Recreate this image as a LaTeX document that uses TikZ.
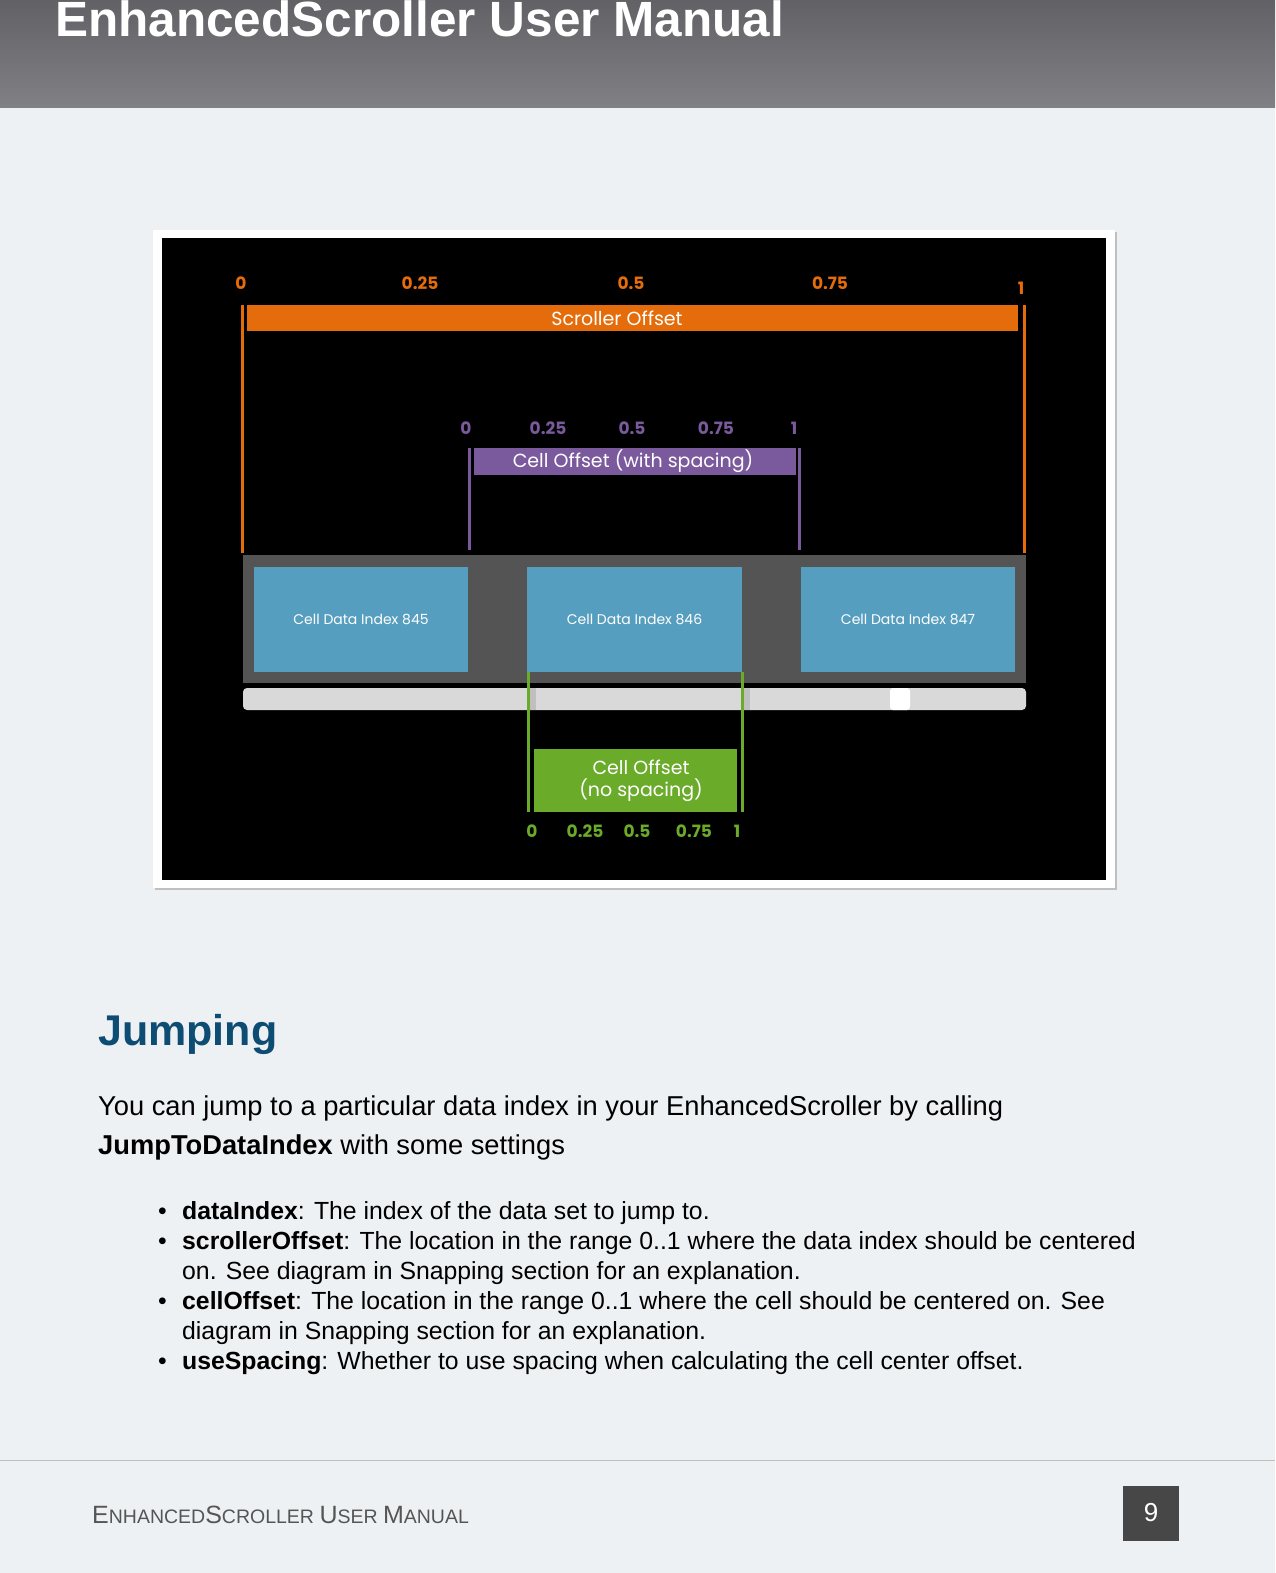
\documentclass[tikz,border=0pt]{standalone}
\usepackage{fontspec}
\setmainfont{Liberation Sans}
\newfontfamily\dfont{Poppins}
\newcommand{\fsz}[1]{\fontsize{#1}{#1}\selectfont}
\definecolor{bg}{HTML}{EEF1F4}
\definecolor{hdr}{HTML}{737277}
\definecolor{orng}{HTML}{E46C0A}
\definecolor{purp}{HTML}{7A5A9C}
\definecolor{cellb}{HTML}{569EBF}
\definecolor{grn}{HTML}{6AAB2A}
\definecolor{head}{HTML}{0E4D73}
\definecolor{ftxt}{HTML}{555555}
\begin{document}
\begin{tikzpicture}[x=1pt,y=-1pt,
  olab/.style={text=orng,font=\dfont\fsz{17}\bfseries,anchor=center},
  plab/.style={text=purp,font=\dfont\fsz{17}\bfseries,anchor=center},
  glab/.style={text=grn,font=\dfont\fsz{17}\bfseries,anchor=center},
  cell/.style={fill=cellb,draw=none,text=white,font=\dfont\fsz{14},align=center}]
\fill[bg] (0,0) rectangle (1275,1573);
\useasboundingbox (0,0) rectangle (1275,1573);
\shade[top color=hdr!85!black,bottom color=hdr!90!white] (0,0) rectangle (1275,108);
\begin{scope}
\clip (0,0) rectangle (1275,108);
\node[anchor=base west,text=white,font=\fsz{49.5}\bfseries,inner sep=0] (title) at (55,37) {EnhancedScroller User Manual};
\end{scope}
% frame
\fill[black!25] (155,232) rectangle (1117,890);
\fill[white] (153,230) rectangle (1115,888);
\fill[black] (162,238) rectangle (1106,880);
% orange
\node[olab] (o0) at (241,283) {0};
\node[olab] (o1) at (420,283) {0.25};
\node[olab] (o2) at (631,283) {0.5};
\node[olab] (o3) at (830,283) {0.75};
\node[olab] (o4) at (1021,288) {1};
\fill[orng] (247,305) rectangle (1018,331);
\node[text=white,font=\dfont\fsz{19}] (so) at (617,318) {Scroller Offset};
\draw[orng,line width=3] (242,305) -- (242,553);
\draw[orng,line width=3] (1024,305) -- (1024,553);
% purple
\node[plab] (p0) at (466,428) {0};
\node[plab] (p1) at (548,428) {0.25};
\node[plab] (p2) at (632,428) {0.5};
\node[plab] (p3) at (716,428) {0.75};
\node[plab] (p4) at (794,428) {1};
\fill[purp] (474,448) rectangle (796,475);
\node[text=white,font=\dfont\fsz{19}] (co) at (633,461.5) {Cell Offset (with spacing)};
\draw[purp,line width=3] (469,448) -- (469,550);
\draw[purp,line width=3] (799,448) -- (799,550);
% panel
\fill[black!67] (243,555) rectangle (1026,683);
\node[cell,minimum width=214,minimum height=105] (c1) at (361,619.5) {Cell Data Index 845};
\node[cell,minimum width=215,minimum height=105] (c2) at (634.5,619.5) {Cell Data Index 846};
\node[cell,minimum width=214,minimum height=105] (c3) at (908,619.5) {Cell Data Index 847};
% scrollbar
\fill[black!15,rounded corners=4] (243,688) rectangle (1026,710);
\fill[black!25] (528,688) rectangle (536,710);
\fill[black!25] (742,688) rectangle (750,710);
\fill[white,rounded corners=3] (890,688) rectangle (910,710);
% green
\draw[grn,line width=3] (528,672) -- (528,812);
\draw[grn,line width=3] (742,672) -- (742,812);
\fill[grn] (534,749) rectangle (737,812);
\node[text=white,font=\dfont\fsz{19},align=center] (cn) at (641,781) {Cell Offset\\[3pt](no spacing)};
\node[glab] (g0) at (532,831) {0};
\node[glab] (g1) at (585,831) {0.25};
\node[glab] (g2) at (637,831) {0.5};
\node[glab] (g3) at (694,831) {0.75};
\node[glab] (g4) at (737,831) {1};
% text
\node[anchor=base west,text=head,font=\fsz{43}\bfseries,inner sep=0] (jh) at (98,1045) {Jumping};
\node[anchor=base west,font=\fsz{27.3},inner sep=0] (pa) at (98,1115) {You can jump to a particular data index in your EnhancedScroller by calling};
\node[anchor=base west,font=\fsz{27.3},inner sep=0] (pb) at (98,1154) {\textbf{JumpToDataIndex} with some settings};
\foreach \y/\t in {1219/{\textbf{dataIndex}: The index of the data set to jump to.},
 1249/{\textbf{scrollerOffset}: The location in the range 0..1 where the data index should be centered},
 1309/{\textbf{cellOffset}: The location in the range 0..1 where the cell should be centered on. See},
 1369/{\textbf{useSpacing}: Whether to use spacing when calculating the cell center offset.}}
 {\node[anchor=base west,font=\fsz{24.8},inner sep=0] at (158,\y) {•};
  \node[anchor=base west,font=\fsz{24.8},inner sep=0] at (182,\y) {\t};}
\node[anchor=base west,font=\fsz{24.8},inner sep=0] (l2) at (182,1279) {on. See diagram in Snapping section for an explanation.};
\node[anchor=base west,font=\fsz{24.8},inner sep=0] (l4) at (182,1339) {diagram in Snapping section for an explanation.};
% footer
\draw[black!25,line width=1] (0,1460) -- (1275,1460);
\node[anchor=base west,text=ftxt,inner sep=0] (ft) at (92,1523) {\fsz{25}E\fsz{19.5}NHANCED\fsz{25}S\fsz{19.5}CROLLER \fsz{25}U\fsz{19.5}SER \fsz{25}M\fsz{19.5}ANUAL};
\fill[black!72] (1123,1486) rectangle (1179,1541);
\node[text=white,font=\fsz{26}] (pg) at (1151,1513) {9};
\end{tikzpicture}
\end{document}
